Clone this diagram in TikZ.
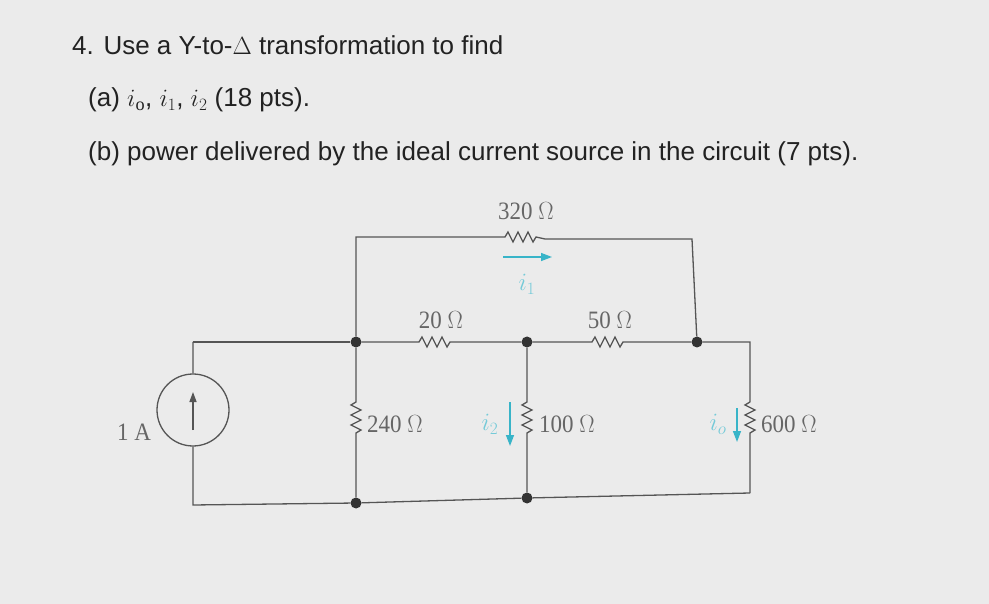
\documentclass[tikz,border=0pt]{standalone}
\usepackage{fontspec}
\setmainfont{Liberation Serif}
\newfontfamily\sansf{Liberation Sans}
\usetikzlibrary{arrows.meta}
\definecolor{bg}{HTML}{EBEBEB}
\definecolor{wire}{HTML}{555555}
\definecolor{cur}{HTML}{38B4C8}
\definecolor{txt}{HTML}{222222}
\tikzset{
  wr/.style={draw=wire,line width=1.3pt},
  dot/.style={circle,fill=black!80,inner sep=0pt,minimum size=11pt},
  title/.style={font=\sansf\fontsize{26}{30}\selectfont,text=txt,anchor=west,inner sep=0pt},
  lab/.style={font=\fontsize{25}{27}\selectfont,text=wire!90,inner sep=1pt,xscale=0.92},
  clab/.style={font=\itshape\fontsize{23}{25}\selectfont,text=cur!70,inner sep=1pt},
  carr/.style={draw=cur,line width=1.4pt,-{Triangle[length=11pt,width=8pt]}}
}
\begin{document}
\begin{tikzpicture}[x=1pt,y=-1pt]
\fill[bg] (0,0) rectangle (989,604);
\useasboundingbox (0,0) rectangle (989,604);
\node[title] (t1) at (72,45) {4. Use a Y-to-$\Delta$ transformation to find};
\node[title] (t2) at (88,100) {(a) $i_{\mathrm o}$, $i_1$, $i_2$ (18 pts).};
\node[title] (t3) at (88,154) {(b) power delivered by the ideal current source in the circuit (7 pts).};
% junctions
\node[dot] (A) at (356,342) {};
\node[dot] (B) at (527,342) {};
\node[dot] (C) at (697,342) {};
\node[dot] (D) at (356,503) {};
\node[dot] (E) at (527,498) {};
\coordinate (TL) at (356,237);
\coordinate (TR) at (692,239);
\coordinate (LT) at (193,342);
\coordinate (LB) at (193,505);
\coordinate (RT) at (750,342);
\coordinate (RB) at (750,493);
% current source
\node[circle,wr,minimum size=72pt,inner sep=0pt] (S) at (193,410) {};
\draw[wire,line width=1.3pt,-{Triangle[length=10pt,width=7pt]}] (193,430) -- (193,392);
\node[lab,anchor=east] (SL) at (152,432) {1 A};
% wires
\draw[wr] (LT) -- (S.north) (S.south) -- (LB) -- (D) -- (E) -- (RB);
\draw[wr] (LT) -- (A);
% top 320
\draw[wr] (A) -- (TL) -- (505,237) -- ++(3,-5) -- ++(5,10) -- ++(5,-10) -- ++(5,10) -- ++(5,-10) -- ++(5,10) -- ++(3,-5) -- (545,239) -- (TR) -- (C);
% 20
\draw[wr] (A) -- (419,342) -- ++(3,-5) -- ++(5,10) -- ++(5,-10) -- ++(5,10) -- ++(5,-10) -- ++(5,10) -- ++(3,-5) -- (B);
% 50
\draw[wr] (B) -- (592,342) -- ++(3,-5) -- ++(5,10) -- ++(5,-10) -- ++(5,10) -- ++(5,-10) -- ++(5,10) -- ++(3,-5) -- (C) -- (RT) -- (750,402);
% vertical resistors
\draw[wr] (A) -- (356,402) -- ++(-5,3) -- ++(10,5) -- ++(-10,5) -- ++(10,5) -- ++(-10,5) -- ++(10,5) -- ++(-5,3) -- (D);
\draw[wr] (B) -- (527,402) -- ++(-5,3) -- ++(10,5) -- ++(-10,5) -- ++(10,5) -- ++(-10,5) -- ++(10,5) -- ++(-5,3) -- (E);
\draw[wr] (750,402) -- ++(-5,3) -- ++(10,5) -- ++(-10,5) -- ++(10,5) -- ++(-10,5) -- ++(10,5) -- ++(-5,3) -- (RB);
% labels
\node[lab] (L320) at (526,211) {320 $\Omega$};
\node[lab] (L20) at (441,320) {20 $\Omega$};
\node[lab] (L50) at (610,320) {50 $\Omega$};
\node[lab,anchor=west] (L240) at (366,424) {240 $\Omega$};
\node[lab,anchor=west] (L100) at (538,424) {100 $\Omega$};
\node[lab,anchor=west] (L600) at (760,424) {600 $\Omega$};
% currents
\coordinate (i1a) at (503,257); \coordinate (i1b) at (552,257);
\draw[carr] (i1a) -- (i1b);
\node[clab] (I1) at (527,284) {$i_1$};
\coordinate (i2a) at (510,402); \coordinate (i2b) at (510,446);
\draw[carr] (i2a) -- (i2b);
\node[clab] (I2) at (490,424) {$i_2$};
\coordinate (ioa) at (737,408); \coordinate (iob) at (737,442);
\draw[carr] (ioa) -- (iob);
\node[clab] (IO) at (718,424) {$i_o$};
\end{tikzpicture}
\end{document}
